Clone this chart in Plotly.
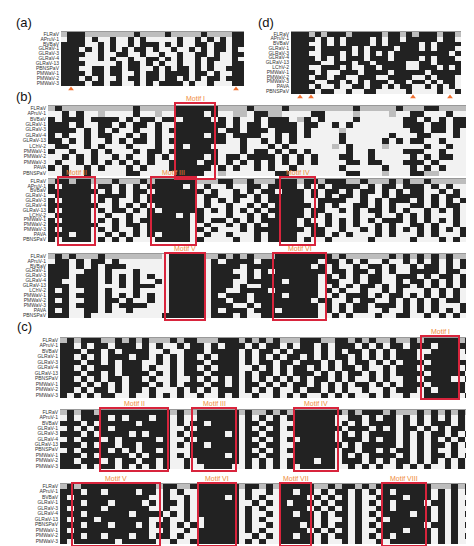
import plotly.graph_objects as go

# Shading codes: '#' identical (black), '-' similar/header (grey), '.' unshaded
# spaces inside the strings only group columns by ten for readability
SHADE = {".": 0, "-": 1, "#": 2}

NAMES_A = ["FLRaV", "APruV-1", "BVBaV", "GLRaV-1", "GLRaV-3", "GLRaV-4", "GLRaV-13",
           "PBNSPaV", "PMWaV-1", "PMWaV-2", "PMWaV-3"]
NAMES_B = ["FLRaV", "APruV-1", "BVBaV", "GLRaV-1", "GLRaV-3", "GLRaV-4", "GLRaV-13",
           "LChV-2", "PMWaV-1", "PMWaV-2", "PMWaV-3", "PAVA", "PBNSPaV"]
NAMES_C = ["FLRaV", "APruV-1", "BVBaV", "GLRaV-1", "GLRaV-3", "GLRaV-4", "GLRaV-13",
           "PBNSPaV", "PMWaV-1", "PMWaV-2", "PMWaV-3"]
NAMES_D = NAMES_B

ALN_A = [
    "-###------ --#----#-- ---#----##",
    ".###.#..#. .#.#.....# ..#.#.#.##",
    "####..#.#. .#.###.#.# ..##.##.##",
    "###.#.#.#. #.##.#..#. .#.#.##.#.",
    "####..#..# #..#..#..# ..##.#..##",
    "###...#.#. .#..##.#.# ..#.##..#.",
    "####.....# .##.#.#..# ..#.#...##",
    "###..##.## .##..#.#.# #.#.#..###",
    "####.##.## ..#.##.### #.##.#..##",
    "###.#.#..# .##.##.##. #.#.##.###",
    "####.##.## ..#.#.#### .#..#...##",
]
ALN_D = [
    "###-#-###- #####-##-# -###-##-",
    "####.#.#.# ###.#.##.# ####.##.",
    "###..#.#.# ###.#.#### #.#.####",
    "####.##### .#.####.## #.#.###.",
    "###..###.# .#.#.#.### ######.#",
    "####.#.#.# ##.###.### #.#.###.",
    "#####..### .##.#####. .##.####",
    "###..###.# ..##.####. .###.#.#",
    "####.#..## #.####.### ##.#####",
    "###.##.##. .###..#### ..#.###.",
    "####..##.# .#.###.##. ##.#.##.",
    "###.#..#.. ##.##.#.## ..#.#.#.",
    "####.##..# ..##.....# ....#..#",
]
ALN_B1 = [
    "-#-------- --#-----## ####----#- ---#------ ---#-----# ---##-----",
    "..#.#..-.. ..#..-..## ##.#..--.# #--....##. ...-....-. .##...#...",
    "#.###.#### .#.##.##.# ###.#.#..# .###.-#.#. ...#...... ##.#.#.##.",
    "###.#..##. #.##.#..## #####.#.## .####.##.. #.#....... ###.##.##.",
    "####.#.#.# ..#..#.### ####.##.## #.###.#... .-........ .##.##.#..",
    "#.#..#.##. .#.#.#..## ##.##.#### ..#.#.#... .#......#. ..##...#..",
    "##.#.#..#. #.##.#.### #####..#.. #.#.#..... .#.....#.# .##..#....",
    ".##..#.#.. .#...#..#. ###....#.. .#.#...... -.#....-.. ...#..#...",
    "#..#..#.#. ..#.##.### ####...#.# #.#.#.#... ..#..#.... ###..#....",
    "..#.#.#..# .#..#.#.## ##.#.##.## ##.#.#.#.. .##..#.... .#.#.##...",
    ".#..#.#.#. #.#.#..### #.##.#.#.# .#.#.#.#.. ..##.##... ###.#.....",
    "#.#..#.#.. .#.#...### ###.#.#..# .#..#..... .#.....#.. .#.#.#....",
    "..#..#.... .##.....## ##..-..... ..##...... ..##...-.. .##--.....",
]
ALN_B2 = [
    "-##-##---# ---#-##### #---##--#- --###-##-# ##--#---#- #--#-----#",
    "#.####.##. #.#.#####. #.#..#..## .####.#.#. ####.#.##. ###.#.#..#",
    "#######.#. #.##.##### ##.#..#.#. ##.###.#.# #.#.##.#.# .##..#.#.#",
    ".#####.### #.#.###### #.##..##.# .#####.#.# .##.#..#.# ###.#.##.#",
    "#.####.#.# ..#.###### #.#.#.#..# .#####..## ##..#.#.## #.#.#.#.#.",
    "#######..# .#.#.##### #.#..#..#. #.#####.#. #..##.#.#. .##.#.##..",
    "#.####.#.# #.#.#.#### ##.#.#.#.# .#####.##. .#.#.##.#. #..#.#.#.#",
    ".#####..#. .#..####.# .#...#..#. #.####.#.# ...#..#..# .#.#...#..",
    "#.####.#.# .#.####### .#.##.#.#. #####.#..# .#.#.#.### .#.#.#.#..",
    "#######..# .##.###### ..#..#.#.# .####.##.# .#.#..#.#. .##.#..#..",
    "#.####.#.# ..#.###### .#.#...#.# ######.##. .#..#.#.#. #.#.#.#.#.",
    "###.##..#. #.#.#.#### ..#..#...# .####..##. #.#...#.#. ..#.#...#.",
    "#.####.#.# .#...##### .#....#..# .####.#..# .....#.... .#...#.#.#",
]
ALN_B3 = [
    "-#-#---#-- ------.### ##--#-#-#- --######## -#------#- #-#-#-#---",
    ".##.#.##.# .......### ##.#.####. ########.# #.#.#..#.. #.#.#.#.#.",
    "###.#.#.## #......### ##.####.## #######.#. #..#.##.#. .#.##.#.#.",
    "###..##.#. ..#....### ##.###..#. #.#######. ##.##.#.#. .####.##..",
    "###.###.#. #.#.#..### ##.####.#. ########.# .#.#.##..# ##.#.##.#.",
    "##..###.#. #.#..#.### ##.###..## ###.####.# #..#.##..# .##.#.#.#.",
    "###.###... #.###..### ##.###.#.. ########.. #.#.##.#.# #.#.#.#.#.",
    "#.#..##.#. ..#....### ##.##..### #.######.# .#..#..#.# ...#.#.#..",
    "###.###.#. #.#.#..### ##.#.###.# ###.####.. #.###.#.## .#.#.#.#..",
    "#.#..##.## .#..#..### ##.##.##.# #######.## ..#.##..#. #.#.#.##..",
    "###.###.#. ####...### ##.###..#. ########.# .#.##.###. #.#.#...#.",
    "#.#..##.#. .#.....### ##.#.###.# ##.#####.# .#.##..#.. #.#.#.#.#.",
    "###..#.... ......#### ##.###.#.. ########.. #.#...#..# #..#.#.#.#",
]
ALN_C1 = [
    "-#-###--#- #-#---#-## ---###-#-# -#---###-- ##-#-#--#- -#-#####-#",
    "##.#.##.## #.#.#..#.# #.#.###.#. ##.#.##.#. ###.#.#.## .###.#####",
    "###.##.#.# ###..#..## #.####.#.# #.#.###.#. #.##.#.#.# ##..####.#",
    "##.#.#.### .##.#.#.## .#.###.#.# .#.##.#.#. ##.#.#.#.# ##.#####..",
    "###.##.#.# ##..#.#.## #.####.#.# #.##.###.# .#.##.#.#. ###.######",
    "##.#.###.# ##.#..#.## .#.###..#. #.#.##.#.# .##.#..#.# ##.#####.#",
    "###.##.#.# ###.#.#.## #.####.#.# #.#.###.#. #.##.#.#.# ###.#####.",
    "##.#.#.##. ##.#..#..# .#.#.#.#.# .#.#.#.##. #.#..#.#.. ##.####..#",
    "###.#.#.#. ###.#.#.## #.##.#.##. #.#.##.#.# .#.##.#.#. ###.#####.",
    "##.#.##.#. ##.#...#.# .#.###.#.# .#..#.##.# .#..#..#.# ##.#.####.",
    "#.#.#.##.. #..#.#.#.. #..#.#..#. .#.#.#..#. #.#..#.#.. #..#####.#",
]
ALN_C2 = [
    "-#-##-#### ######-#-- ######-#-- #-#-###### #-#-###-#- --#-#-#-#-",
    ".#.####.#. ###.##.#.. ######.#.# .#.####### ..##.#.##. #.#.#.#.#.",
    "###.#.#### #.####.#.# #.####.##. ##..###### .#.#.####. #.#.###.#.",
    ".#.#.##.## ######..#. ######.#.# .#.####### #.###.#.#. ##.#.#.##.",
    "###.#.#### .#.###.#.# ####.#.##. ##..###### .#.#.####. #.#.##.#.#",
    ".#.###.#.# ####.#..#. ######.#.# .#.#.##### .###.#.##. #.#.#.#.#.",
    "###.#.##.# #.####.#.# #.####.##. ##..###### #.#.#####. #.#.##.#.#",
    ".#.####.#. #.##.#...# ######.#.# .#.####### .##.##.#.# #.#.#..#..",
    "###.#.#### .#.###.#.# ####.#.##. ##..###### .#.#.####. #.#.##.#.#",
    "##.###.#.# #.##.#..#. ######.#.# .#.####.## .###.#.#.# #.#.#.#.#.",
    "###.#.##.# .#.#.#..#. .####..#.# .#.#.##### ..#.#.#..# .#.#..#.#.",
]
ALN_C3 = [
    "-#-####### ####-##--# ######-##- #-#####--# -##-#-#### ####---#-#",
    "###.##.### #.##.#.#.. ######.#.. #.##.##.#. ##.#.#.#.# ####.#.#.#",
    "#.######## ###..#..#. ####.#.#.# ..####.#.# .#.#..#### .###.#.#..",
    "###.###.## ##.#.##.#. ######..#. #.#.###.#. ##.#.#.#.# ###.##.#.#",
    "#.####.### ###..#..#. ######.#.# ..####.#.# .#.#..##.# ####.#.#..",
    "###.###### .####.#.#. ######.#.. #.##.##.#. ##.#.#.### #.##.#.#.#",
    "#.###.#### ###..#..#. .#####.#.# ..#####.#. .#.#..#.## ####.#.#..",
    "###.###.## #.#.##.#.# .#####.#.. #.###.#.#. ##.#.#.### ###.##.#.#",
    "#.######## ###..#..#. ######.#.# ..####.#.# .#.#..#### .###.#.#..",
    "###.##.### .##.##.#.. ######..#. #.##.##.#. ##.#.#.#.# ####.#.#.#",
    "#.######.# ####..#..# ######.#.# ..#####.#. .#.#..#.## ####.#.#..",
]

# blocks: (rows, names, left, right, top, bottom)
BLOCKS = [
    (ALN_A, NAMES_A, 53, 236, 24, 78),
    (ALN_D, NAMES_D, 283, 453, 24, 86),
    (ALN_B1, NAMES_B, 40, 466, 98, 168),
    (ALN_B2, NAMES_B, 40, 466, 171, 234),
    (ALN_B3, NAMES_B, 40, 466, 246, 310),
    (ALN_C1, NAMES_C, 52, 464, 330, 390),
    (ALN_C2, NAMES_C, 52, 464, 402, 461),
    (ALN_C3, NAMES_C, 52, 464, 476, 536),
]

# motif boxes: (label, x0, x1, y0, y1)
MOTIFS = [
    ("Motif I", 167, 207, 95, 171),
    ("Motif II", 50, 87, 169, 237),
    ("Motif III", 143, 188, 169, 237),
    ("Motif IV", 272, 307, 169, 237),
    ("Motif V", 157, 197, 245, 312),
    ("Motif VI", 265, 318, 245, 312),
    ("Motif I", 413, 451, 328, 391),
    ("Motif II", 92, 160, 400, 463),
    ("Motif III", 184, 228, 400, 463),
    ("Motif IV", 286, 330, 400, 463),
    ("Motif V", 64, 152, 475, 538),
    ("Motif VI", 190, 228, 475, 538),
    ("Motif VII", 272, 303, 475, 538),
    ("Motif VIII", 374, 418, 475, 538),
]
ARROWS_X = [63, 228, 292, 303, 405, 442]
ARROWS_Y = [81, 81, 89, 89, 89, 89]
PANELS = [("(a)", 16, 14), ("(d)", 258, 14), ("(b)", 16, 88), ("(c)", 16, 318)]

fig = go.Figure()
for rows, names, left, right, top, bottom in BLOCKS:
    rows = [r.replace(" ", "") for r in rows]
    ncol = max(len(r) for r in rows)
    z = [[SHADE[c] for c in r.ljust(ncol, ".")] for r in rows]
    dx = (right - left) / ncol
    dy = (bottom - top) / len(rows)
    fig.add_trace(go.Heatmap(
        z=z, x0=left + dx / 2, dx=dx, y0=top + dy / 2, dy=dy,
        zmin=0, zmax=2, showscale=False, hoverinfo="skip",
        colorscale=[[0, "#f2f2f2"], [0.33, "#f2f2f2"], [0.34, "#bdbdbd"],
                    [0.66, "#bdbdbd"], [0.67, "#222222"], [1, "#222222"]],
    ))
    fig.add_trace(go.Scatter(
        x=[left - 2] * len(names), y=[top + dy * (i + 0.5) for i in range(len(names))],
        mode="text", text=names, textposition="middle left",
        textfont=dict(size=5, color="#333", family="Liberation Sans"),
        showlegend=False, hoverinfo="skip",
    ))
    fig.add_shape(type="line", x0=left, x1=right, y0=top - 0.5, y1=top - 0.5,
                  line=dict(color="#999", width=1))

for label, x0, x1, y0, y1 in MOTIFS:
    fig.add_shape(type="rect", x0=x0, x1=x1, y0=y0, y1=y1,
                  line=dict(color="#d8243c", width=2))
    fig.add_annotation(x=(x0 + x1) / 2, y=y0 - 5, text=label, showarrow=False,
                       font=dict(size=7, color="#f08a3c", family="Liberation Sans"))

fig.add_trace(go.Scatter(x=ARROWS_X, y=ARROWS_Y, mode="markers",
                         marker=dict(symbol="triangle-up", size=5, color="#f07030"),
                         showlegend=False, hoverinfo="skip"))
for text, x, y in PANELS:
    fig.add_annotation(x=x, y=y, text=text, showarrow=False,
                       font=dict(size=13, color="#111", family="Liberation Sans"))

fig.update_layout(
    width=474, height=546, margin=dict(l=0, r=0, t=0, b=0),
    plot_bgcolor="white", paper_bgcolor="white", showlegend=False,
    xaxis=dict(range=[0, 474], visible=False, fixedrange=True),
    yaxis=dict(range=[546, 0], visible=False, fixedrange=True),
)
fig.write_html("out.html")
